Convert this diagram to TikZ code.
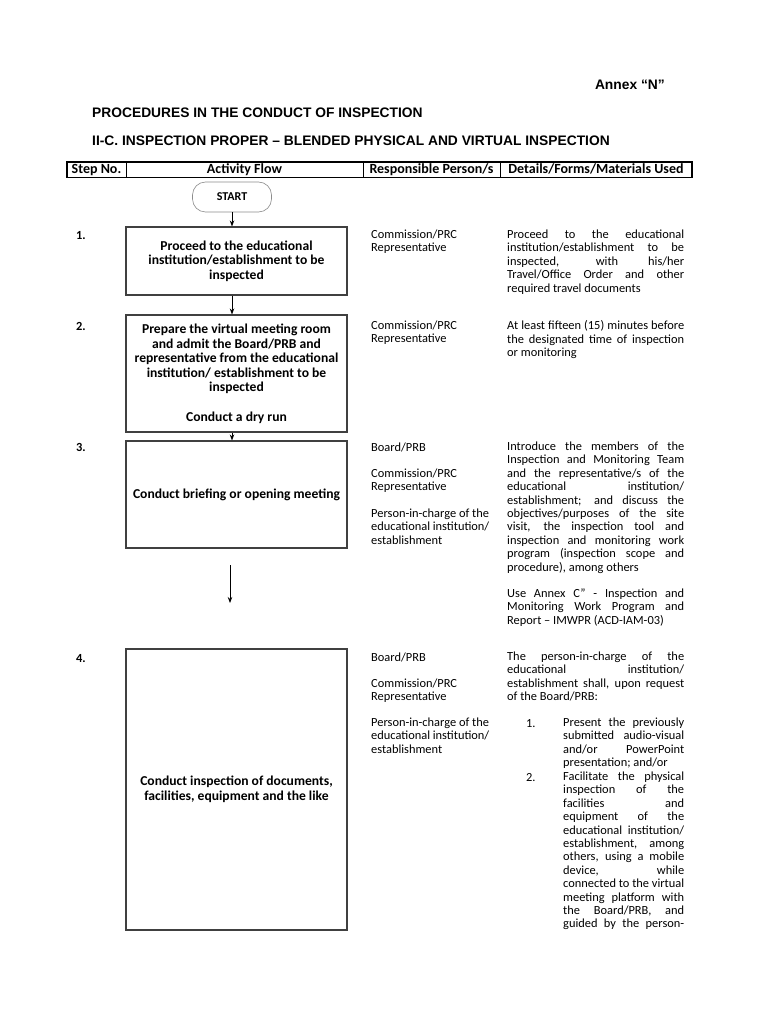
\documentclass[tikz,border=0pt]{standalone}
\usepackage{fontspec}
\setmainfont{Carlito}
\newfontfamily\arialfont{Liberation Sans}
\usetikzlibrary{arrows.meta}

% one justified line of a table cell
\newcommand{\jline}[2][177pt]{\makebox[#1][s]{#2}}

\begin{document}
\begin{tikzpicture}[x=1pt, y=-1pt,
    flowbox/.style={draw=black!75, line width=1.1pt, minimum width=221pt, align=center,
      inner sep=0pt, font=\fontsize{13.6}{14.6}\selectfont\bfseries},
    termbox/.style={draw=black!45, line width=0.6pt, rounded corners=13pt, minimum width=79pt,
      minimum height=30pt, font=\fontsize{12}{13}\selectfont\bfseries},
    cell/.style={anchor=north west, yshift=9.38pt, align=left, inner sep=0pt,
      execute at begin node=\strut, font=\fontsize{12.4}{13.4}\selectfont},
    stepno/.style={anchor=base west, inner sep=0pt, font=\fontsize{12.4}{14}\selectfont\bfseries},
    head/.style={anchor=base, inner sep=0pt, font=\fontsize{14}{15}\selectfont\bfseries},
    title/.style={anchor=base west, inner sep=0pt, font=\arialfont\fontsize{13.8}{16}\selectfont\bfseries},
    flow/.style={-{Stealth[length=6pt,width=4.5pt]}, line width=0.8pt}]
  \useasboundingbox[fill=white] (0,0) rectangle (768,1024);

  % titles
  \node[title, anchor=base east] (annex) at (665,90) {Annex “N”};
  \node[title] (proc) at (92,118) {PROCEDURES IN THE CONDUCT OF INSPECTION};
  \node[title] (sect) at (92,146) {II-C. INSPECTION PROPER – BLENDED PHYSICAL AND VIRTUAL INSPECTION};

  % table header
  \draw[line width=1.6pt] (67,162) rectangle (692,177.5);
  \draw[line width=1pt] (126,162) -- (126,177.5) (363,162) -- (363,177.5) (500,162) -- (500,177.5);
  \node[head] (hstep) at (96.5,174) {Step No.};
  \node[head] (hflow) at (244.5,174) {Activity Flow};
  \node[head] (hresp) at (431.5,174) {Responsible Person/s};
  \node[head] (hdet) at (596,174) {Details/Forms/Materials Used};

  % flow chart
  \node[termbox] (start) at (232,197) {START};
  \node[flowbox, minimum height=68pt] (proceed) at (236.5,261)
    {Proceed to the educational\\ institution/establishment to be\\ inspected};
  \node[flowbox, minimum height=117pt] (prepare) at (236.5,373.5)
    {Prepare the virtual meeting room\\ and admit the Board/PRB and\\ representative from the educational\\
     institution/ establishment to be\\ inspected\\[14.6pt] Conduct a dry run};
  \node[flowbox, minimum height=107pt] (briefing) at (236.5,494.5) {Conduct briefing or opening meeting};
  \node[flowbox, minimum height=281pt] (inspect) at (236.5,789.5)
    {Conduct inspection of documents,\\ facilities, equipment and the like};

  \draw[flow] (start.south) -- (start.south |- proceed.north);
  \draw[flow] (proceed.south -| start) -- (prepare.north -| start);
  \draw[flow] (prepare.south -| start) -- (briefing.north -| start);
  \coordinate (gaptop) at (230,565);
  \coordinate (gapbot) at (230,603);
  \draw[flow] (gaptop) -- (gapbot);

  % step numbers
  \node[stepno] (s1) at (76,240) {1.};
  \node[stepno] (s2) at (76,330) {2.};
  \node[stepno] (s3) at (76,451) {3.};
  \node[stepno] (s4) at (76,662) {4.};

  % step 1
  \node[cell] (r1) at (371,239) {Commission/PRC\\ Representative};
  \node[cell] (d1) at (507,239) {\jline{Proceed to the educational}\\
    \jline{institution/establishment to be}\\ \jline{inspected, with his/her}\\
    \jline{Travel/Office Order and other}\\ required travel documents};

  % step 2
  \node[cell] (r2) at (371,330) {Commission/PRC\\ Representative};
  \node[cell] (d2) at (507,330) {\jline{At least fifteen (15) minutes before}\\
    \jline{the designated time of inspection}\\ or monitoring};

  % step 3
  \node[cell] (r3a) at (371,451) {Board/PRB};
  \node[cell] (r3b) at (371,478) {Commission/PRC\\ Representative};
  \node[cell] (r3c) at (371,518) {Person-in-charge of the\\ educational institution/\\ establishment};
  \node[cell] (d3a) at (507,451) {\jline{Introduce the members of the}\\
    \jline{Inspection and Monitoring Team}\\ \jline{and the representative/s of the}\\
    \jline{educational institution/}\\ \jline{establishment; and discuss the}\\
    \jline{objectives/purposes of the site}\\ \jline{visit, the inspection tool and}\\
    \jline{inspection and monitoring work}\\ \jline{program (inspection scope and}\\
    procedure), among others};
  \node[cell] (d3b) at (507,598) {\jline{Use Annex C” - Inspection and}\\
    \jline{Monitoring Work Program and}\\ Report – IMWPR (ACD-IAM-03)};

  % step 4
  \node[cell] (r4a) at (371,661) {Board/PRB};
  \node[cell] (r4b) at (371,688) {Commission/PRC\\ Representative};
  \node[cell] (r4c) at (371,727) {Person-in-charge of the\\ educational institution/\\ establishment};
  \node[cell] (d4) at (507,661) {\jline{The person-in-charge of the}\\
    \jline{educational institution/}\\ \jline{establishment shall, upon request}\\
    of the Board/PRB:};
  \node[cell] (n1) at (526,727) {1.};
  \node[cell] (i1) at (563,727) {\jline[121pt]{Present the previously}\\
    \jline[121pt]{submitted audio-visual}\\ \jline[121pt]{and/or PowerPoint}\\ presentation; and/or};
  \node[cell] (n2) at (526,781) {2.};
  \node[cell] (i2) at (563,781) {\jline[121pt]{Facilitate the physical}\\
    \jline[121pt]{inspection of the}\\ \jline[121pt]{facilities and}\\
    \jline[121pt]{equipment of the}\\ \jline[121pt]{educational institution/}\\
    \jline[121pt]{establishment, among}\\ \jline[121pt]{others, using a mobile}\\
    \jline[121pt]{device, while}\\ \jline[121pt]{connected to the virtual}\\
    \jline[121pt]{meeting platform with}\\ \jline[121pt]{the Board/PRB, and}\\
    \jline[121pt]{guided by the person-}};
\end{tikzpicture}
\end{document}
